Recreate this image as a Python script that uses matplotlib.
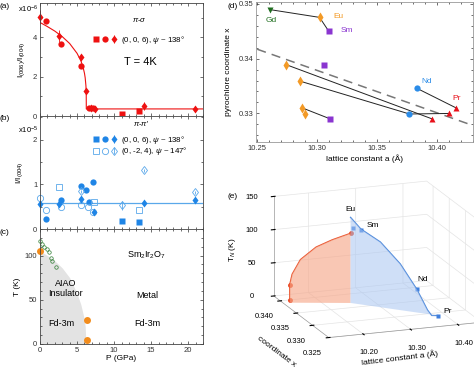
import matplotlib
matplotlib.use('Agg')
import matplotlib.pyplot as plt
from matplotlib.ticker import MultipleLocator
from matplotlib.legend_handler import HandlerTuple
from mpl_toolkits.mplot3d.art3d import Poly3DCollection

plt.rcParams['font.family'] = ['Liberation Sans', 'DejaVu Sans']
plt.rcParams['font.size'] = 5.5
plt.rcParams['mathtext.fontset'] = 'custom'
plt.rcParams['mathtext.rm'] = 'Liberation Sans'
plt.rcParams['mathtext.it'] = 'Liberation Sans:italic'
plt.rcParams['axes.linewidth'] = 0.6
plt.rcParams['grid.color'] = '#e4e4e4'
plt.rcParams['grid.linewidth'] = 0.5

# ---------------- panel (a) data : pi-sigma, T = 4K (x1e-6) ----------------
a_sq_P = [11.0, 13.3]
a_sq_v = [0.12, 0.24]
a_ci_P = [0.85, 2.84, 5.5, 6.6, 7.1]
a_ci_v = [4.83, 3.68, 2.53, 0.42, 0.40]
a_di_P = [0.0, 2.6, 5.54, 6.2, 6.9, 7.4, 14.05, 20.9]
a_di_v = [5.05, 4.09, 2.98, 1.29, 0.42, 0.36, 0.52, 0.37]
a_di_e = [0.35, 0.30, 0.20, 0.15, 0.10, 0.10, 0.20, 0.15]
a_fit_P = [0, 1, 2, 3, 4, 5, 5.5, 5.8, 6.0, 6.1, 6.2, 6.24, 6.25, 22]
a_fit_v = [4.76, 4.55, 4.32, 4.04, 3.69, 3.19, 2.82, 2.50, 2.18, 1.94, 1.53, 1.11, 0.36, 0.36]

# ---------------- panel (b) data : pi-pi' (x1e-5) ----------------
b_fsq_P = [11.0, 13.3]
b_fsq_v = [0.19, 0.16]
b_fci_P = [0.81, 2.84, 5.5, 6.2, 6.6, 7.16]
b_fci_v = [0.215, 0.66, 0.97, 0.87, 0.61, 1.05]
b_fdi_P = [0.0, 2.6, 5.5, 7.3, 14.05, 20.9]
b_fdi_v = [0.55, 0.57, 0.68, 0.38, 0.58, 0.64]
b_fdi_e = [0.05, 0.05, 0.07, 0.05, 0.05, 0.05]
b_osq_P = [2.6, 7.35, 13.3]
b_osq_v = [0.93, 0.60, 0.42]
b_oci_P = [0.04, 0.85, 2.84, 5.5, 6.5, 7.1]
b_oci_v = [0.70, 0.43, 0.49, 0.53, 0.50, 0.39]
b_odi_P = [5.5, 11.0, 14.05, 20.9]
b_odi_v = [0.84, 0.53, 1.31, 0.82]
b_odi_e = [0.03, 0.10, 0.03, 0.03]
b_level = 0.59
b_line_P = [0, 22]

# ---------------- panel (c) data : phase diagram ----------------
c_bound_P = [0, 1, 2, 3, 4, 5, 5.5, 5.9, 6.1, 6.2]
c_bound_T = [105, 100, 94, 86, 75, 57, 45, 31, 20, 0]
c_or_P = [0.0, 6.3, 6.3]
c_or_T = [105, 27, 4]
c_gr_P = [0.0, 0.3, 0.6, 0.9, 1.26, 1.5, 1.67, 2.1]
c_gr_T = [117, 113, 110, 107, 104, 97, 93.5, 87]

# ---------------- panel (d) data ----------------
d_points = {
    'Gd': dict(a=[10.261], x=[0.3489], m='v', c='#1f6e1f'),
    'Eu': dict(a=[10.302, 10.274, 10.2855, 10.2877, 10.2896],
               x=[0.3475, 0.3389, 0.3359, 0.3310, 0.3299], m='d', c='#f39a26'),
    'Sm': dict(a=[10.3096, 10.306, 10.311], x=[0.3450, 0.3389, 0.3290], m='s', c='#8a35d0'),
    'Nd': dict(a=[10.383, 10.377], x=[0.3346, 0.3299], m='o', c='#2b8ce8'),
    'Pr': dict(a=[10.416, 10.410, 10.396], x=[0.3310, 0.3300, 0.3290], m='^', c='#e8101a'),
}
d_label_pos = {'Gd': (10.262, 0.3469), 'Eu': (10.318, 0.3477), 'Sm': (10.325, 0.3451),
               'Nd': (10.391, 0.3358), 'Pr': (10.416, 0.3328)}
d_links = [((10.261, 0.3489), (10.302, 0.3475)),
           ((10.302, 0.3475), (10.3096, 0.3450)),
           ((10.274, 0.3389), (10.396, 0.3290)),
           ((10.2855, 0.3359), (10.377, 0.3299)),
           ((10.377, 0.3299), (10.410, 0.3300)),
           ((10.383, 0.3346), (10.416, 0.3310)),
           ((10.2877, 0.3310), (10.311, 0.3290))]
d_dash_a = [10.25, 10.43]
d_dash_x = [0.3417, 0.3278]

# ---------------- panel (e) data ----------------
e_red_a = [10.140, 10.140, 10.1445, 10.160, 10.189, 10.219, 10.253]
e_red_x = [0.3390, 0.3390, 0.3389, 0.3386, 0.3380, 0.3374, 0.3367]
e_red_T = [4, 27, 43, 65, 84, 95, 105]
e_redpt_idx = [0, 1, 6]
e_blue_a = [10.253, 10.268, 10.297, 10.326, 10.350, 10.366, 10.372, 10.385]
e_blue_x = [0.3367, 0.3357, 0.3339, 0.3320, 0.3304, 0.3294, 0.3290, 0.3290]
e_blue_T = [129, 114, 99, 71, 37, 8, 1, 0]
e_pts_name = ['Eu', 'Sm', 'Nd', 'Pr']
e_pts_a = [10.256, 10.268, 10.350, 10.385]
e_pts_x = [0.3365, 0.3357, 0.3304, 0.3290]
e_pts_T = [114, 113, 37, 0]

RED = '#ee1111'
BLUE = '#1f85e6'
LBLUE = '#5aa8ea'

W, H = 474, 368
fig = plt.figure(figsize=(W / 100, H / 100), dpi=100)


def px(x0, y0, x1, y1):
    return [x0 / W, 1 - y1 / H, (x1 - x0) / W, (y1 - y0) / H]


def style(ax):
    ax.tick_params(which='both', direction='in', top=True, right=True,
                   length=2.5, width=0.5, pad=2, colors='#333333', labelsize=5.5)
    ax.tick_params(which='minor', length=1.4)
    for s in ax.spines.values():
        s.set_color('#444444')


# (a)
axa = fig.add_axes(px(40, 3, 203, 116))
axa.plot(a_fit_P, a_fit_v, color=RED, lw=0.8)
hs = axa.plot(a_sq_P, a_sq_v, 's', color=RED, ms=4, mec='none', clip_on=False)[0]
hc = axa.plot(a_ci_P, a_ci_v, 'o', color=RED, ms=4.5, mec='none', clip_on=False)[0]
hd = axa.errorbar(a_di_P, a_di_v, yerr=a_di_e, fmt='d', color=RED, ms=4.5, mec='none',
                  elinewidth=0.6, capsize=0, clip_on=False)
axa.set_xlim(0, 22)
axa.set_ylim(0, 5.75)
axa.set_yticks([0, 2, 4])
axa.yaxis.set_minor_locator(MultipleLocator(1))
axa.xaxis.set_minor_locator(MultipleLocator(1))
axa.set_xticks([0, 5, 10, 15, 20])
axa.set_xticklabels([])
style(axa)
axa.set_ylabel(r'I$_{(006)}$/I$_{(004)}$', fontsize=6, labelpad=4)
axa.text(-0.01, 0.94, r'x10$^{-6}$', transform=axa.transAxes, ha='right', va='center', fontsize=5.5)
leg = axa.legend([(hs, hc, hd)], [r'(0, 0, 6), $\psi$ ~ 138°'], title=r'$\pi$-$\sigma$',
                 handler_map={tuple: HandlerTuple(ndivide=None, pad=0.6)}, frameon=False,
                 loc='upper left', bbox_to_anchor=(0.30, 0.93), fontsize=5.7, title_fontsize=5.7,
                 handlelength=2.7, handletextpad=0.6, borderpad=0.2, labelspacing=0.3)
leg._legend_box.sep = 7
axa.text(13.6, 2.75, 'T = 4K', fontsize=8, ha='center', va='center')

# (b)
axb = fig.add_axes(px(40, 116, 203, 229))
axb.plot(b_line_P, [b_level, b_level], color=LBLUE, lw=0.9)
f1 = axb.plot(b_fsq_P, b_fsq_v, 's', color=BLUE, ms=4, mec='none', clip_on=False)[0]
f2 = axb.plot(b_fci_P, b_fci_v, 'o', color=BLUE, ms=4.5, mec='none', clip_on=False)[0]
f3 = axb.errorbar(b_fdi_P, b_fdi_v, yerr=b_fdi_e, fmt='d', color=BLUE, ms=4.5, mec='none',
                  elinewidth=0.6, capsize=0, clip_on=False)
o1 = axb.plot(b_osq_P, b_osq_v, 's', mfc='none', mec=LBLUE, mew=0.6, ms=4, clip_on=False)[0]
o2 = axb.plot(b_oci_P, b_oci_v, 'o', mfc='none', mec=LBLUE, mew=0.6, ms=4.5, clip_on=False)[0]
o3 = axb.errorbar(b_odi_P, b_odi_v, yerr=b_odi_e, fmt='d', mfc='none', mec=LBLUE, color=LBLUE,
                  mew=0.6, ms=4.5, elinewidth=0.6, capsize=0, clip_on=False)
axb.set_xlim(0, 22)
axb.set_ylim(0, 2.53)
axb.set_yticks([0, 1, 2])
axb.yaxis.set_minor_locator(MultipleLocator(0.5))
axb.xaxis.set_minor_locator(MultipleLocator(1))
axb.set_xticks([0, 5, 10, 15, 20])
axb.set_xticklabels([])
style(axb)
axb.set_ylabel(r'I/I$_{(004)}$', fontsize=6, labelpad=6)
axb.text(-0.01, 0.875, r'x10$^{-5}$', transform=axb.transAxes, ha='right', va='center', fontsize=5.5)
legb = axb.legend([(f1, f2, f3), (o1, o2, o3)],
                  [r'(0, 0, 6), $\psi$ ~ 138°', r'(0, -2, 4), $\psi$ ~ 147°'], title=r"$\pi$-$\pi$'",
                  handler_map={tuple: HandlerTuple(ndivide=None, pad=0.6)}, frameon=False,
                  loc='upper left', bbox_to_anchor=(0.30, 1.02), fontsize=5.7, title_fontsize=5.7,
                  handlelength=2.7, handletextpad=0.6, borderpad=0.2, labelspacing=-0.1,
                  handleheight=0.5)
legb._legend_box.sep = 4

# (c)
axc = fig.add_axes(px(40, 229, 203, 344))
axc.fill_betweenx(c_bound_T, 0, c_bound_P, color='#e3e3e3', lw=0)
axc.plot(c_gr_P, c_gr_T, 'o', mfc='none', mec='#2e7d32', mew=0.5, ms=2.5, clip_on=False)
axc.plot(c_or_P, c_or_T, 'o', color='#f28c1c', ms=5, mec='none', clip_on=False)
axc.set_xlim(0, 22)
axc.set_ylim(0, 130)
axc.set_yticks([0, 50, 100])
axc.set_xticks([0, 5, 10, 15, 20])
axc.xaxis.set_minor_locator(MultipleLocator(1))
axc.yaxis.set_minor_locator(MultipleLocator(10))
style(axc)
axc.set_xlabel('P (GPa)', fontsize=6, labelpad=1)
axc.set_ylabel('T (K)', fontsize=6, labelpad=3)
axc.text(14.4, 100, r'Sm$_2$Ir$_2$O$_7$', fontsize=6.5, ha='center', va='center')
axc.text(3.4, 63, 'AIAO\nInsulator', fontsize=6.5, ha='center', va='center', linespacing=1.2)
axc.text(14.5, 55, 'Metal', fontsize=6.5, ha='center', va='center')
axc.text(2.9, 22.7, 'Fd-3m', fontsize=6.5, ha='center', va='center')
axc.text(14.5, 22.7, 'Fd-3m', fontsize=6.5, ha='center', va='center')

# (d)
axd = fig.add_axes(px(256, 2, 473, 142))
axd.plot(d_dash_a, d_dash_x, color='#777777', lw=1.1, dashes=(6, 4))
for (p0, p1) in d_links:
    axd.plot([p0[0], p1[0]], [p0[1], p1[1]], color='#222222', lw=0.7)
for name, d in d_points.items():
    axd.plot(d['a'], d['x'], d['m'], color=d['c'], ms=4.5 if d['m'] != 'd' else 5, mec='none')
    lx, ly = d_label_pos[name]
    axd.text(lx, ly, name, color=d['c'], fontsize=6, ha='center', va='center')
axd.set_xlim(10.249, 10.43)
axd.set_ylim(0.3248, 0.3503)
axd.set_xticks([10.25, 10.30, 10.35, 10.40])
axd.set_xticklabels(['10.25', '10.30', '10.35', '10.40'])
axd.set_yticks([0.33, 0.34, 0.35])
axd.xaxis.set_minor_locator(MultipleLocator(0.01))
axd.yaxis.set_minor_locator(MultipleLocator(0.002))
style(axd)
for s in axd.spines.values():
    s.set_color('#999999')
axd.set_xlabel('lattice constant a (Å)', fontsize=6, labelpad=2)
axd.set_ylabel('pyrochlore coordinate x', fontsize=6, labelpad=5)

# (e) 3D
axe = fig.add_axes(px(264, 163, 486, 361), projection='3d', proj_type='ortho')
axe.view_init(elev=16, azim=-110)
axe.set_box_aspect((1.57, 1.55, 1.0), zoom=1.23)
red_verts = [list(zip(e_red_a, e_red_x, e_red_T)) +
             [(e_red_a[-1], e_red_x[-1], 0), (e_red_a[0], e_red_x[0], 0)]]
blue_verts = [list(zip(e_blue_a, e_blue_x, e_blue_T)) +
              [(e_blue_a[-1], e_blue_x[-1], 0), (e_blue_a[0], e_blue_x[0], 0)]]
axe.add_collection3d(Poly3DCollection(blue_verts, facecolor='#a9c6f2', alpha=0.55, edgecolor='none'))
axe.add_collection3d(Poly3DCollection(red_verts, facecolor='#f6a98c', alpha=0.65, edgecolor='none'))
axe.plot(e_red_a, e_red_x, e_red_T, color='#e8502a', lw=0.9)
axe.plot([e_red_a[i] for i in e_redpt_idx], [e_red_x[i] for i in e_redpt_idx],
         [e_red_T[i] for i in e_redpt_idx], 'o', color='#e8401a', ms=3.5, mec='none')
axe.plot(e_blue_a, e_blue_x, e_blue_T, color='#4a86d8', lw=0.9)
axe.plot(e_pts_a, e_pts_x, e_pts_T, 's', color='#3f7fdc', ms=2.5, mec='none')
e_lab_off = {'Eu': (-0.005, 0.0, 28), 'Sm': (0.025, 0.0, 5), 'Nd': (0.012, 0.0, 14), 'Pr': (0.02, 0.0, 4)}
for n, a_, x_, t_ in zip(e_pts_name, e_pts_a, e_pts_x, e_pts_T):
    da, dx, dt = e_lab_off[n]
    axe.text(a_ + da, x_ + dx, t_ + dt, n, fontsize=6, ha='center', va='center')
axe.set_xlim(10.127, 10.45)
axe.set_ylim(0.325, 0.342)
axe.set_zlim(0, 150)
axe.set_xticks([10.2, 10.3, 10.4])
axe.set_xticklabels(['10.20', '10.30', '10.40'])
axe.set_yticks([0.325, 0.330, 0.335, 0.340])
axe.set_yticklabels(['0.325', '0.330', '0.335', '0.340'])
axe.set_zticks([0, 50, 100, 150])
for axis in (axe.xaxis, axe.yaxis, axe.zaxis):
    axis.set_pane_color((1, 1, 1, 0))
    axis.line.set_color('#999999')
    axis.line.set_linewidth(0.5)
    axis.offsetText.set_visible(False)
    axis.label.set_visible(False)
axe.tick_params(labelsize=5.5, pad=0)
axe.title.set_visible(False)
fig.text(400 / W, 1 - 358 / H, 'lattice constant a (Å)', fontsize=6, ha='center', va='center', rotation=7)
fig.text(276 / W, 1 - 352 / H, 'coordinate x', fontsize=6, ha='center', va='center', rotation=-37)
fig.text(232 / W, 1 - 250 / H, r'T$_N$ (K)', fontsize=6, ha='center', va='center', rotation=90)

for lab, (x, y) in {'(a)': (0, 6), '(b)': (0, 118), '(c)': (0, 233), '(d)': (227, 6), '(e)': (227, 196)}.items():
    fig.text(x / W, 1 - y / H, lab, fontsize=6, ha='left', va='center')

fig.savefig('out.png', dpi=100)
